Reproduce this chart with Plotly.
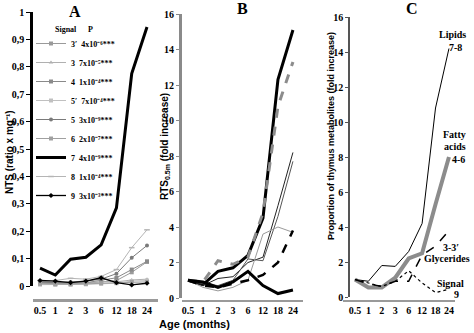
import plotly.graph_objects as go

# ---------------- data ----------------
ages = ["0.5", "1", "2", "3", "6", "12", "18", "24"]

# Panel A: NTS (ratio x mg-1)
a_signals = ["3′", "3", "4", "5′", "5", "6", "7", "8", "9"]
a_pvalues = ["4x10⁻⁶***", "7x10⁻⁵***", "1x10⁻⁴***", "7x10⁻⁴***", "3x10⁻⁹***",
             "2x10⁻⁷***", "4x10⁻⁹***", "1x10⁻⁴***", "3x10⁻³***"]
a_3p = [0.010, 0.008, 0.008, 0.010, 0.015, 0.020, 0.050, 0.088]
a_3 = [0.015, 0.012, 0.012, 0.012, 0.015, 0.015, 0.022, 0.025]
a_4 = [0.012, 0.010, 0.010, 0.012, 0.020, 0.030, 0.060, 0.090]
a_5p = [0.005, 0.005, 0.005, 0.006, 0.008, 0.010, 0.018, 0.020]
a_5 = [0.015, 0.012, 0.015, 0.018, 0.025, 0.045, 0.103, 0.148]
a_6 = [0.008, 0.006, 0.006, 0.008, 0.010, 0.012, 0.015, 0.015]
a_7 = [0.065, 0.040, 0.098, 0.105, 0.150, 0.285, 0.775, 0.945]
a_8 = [0.020, 0.020, 0.028, 0.025, 0.035, 0.060, 0.140, 0.205]
a_9 = [0.020, 0.018, 0.012, 0.018, 0.030, 0.012, 0.004, 0.010]
a_ticks = [0, 0.1, 0.2, 0.3, 0.4, 0.5, 0.6, 0.7, 0.8, 0.9, 1]
a_ticktext = ["0", "0,1", "0,2", "0,3", "0,4", "0,5", "0,6", "0,7", "0,8", "0,9", "1"]

# Panel B: RTS0.5m (fold increase)
b_7 = [1, 0.75, 1.5, 1.7, 2.4, 4.5, 12.3, 15.1]
b_8 = [1, 0.9, 2.1, 1.9, 2.3, 4.8, 10.8, 13.3]
b_4 = [1, 0.7, 1.1, 1.2, 2.0, 2.3, 5.2, 8.2]
b_6 = [1, 0.8, 0.7, 1.0, 2.2, 2.1, 4.6, 7.7]
b_3p = [1, 0.6, 0.4, 0.6, 1.0, 3.6, 4.0, 3.7]
b_3 = [1, 0.7, 0.6, 0.8, 1.0, 1.3, 2.0, 3.8]
b_9 = [1, 0.9, 0.6, 0.9, 1.5, 0.7, 0.25, 0.45]
b_labels = ["7", "8", "4", "6", "3′", "3", "9"]
b_label_y = [14.9, 13.4, 8.3, 7.5, 4.8, 3.4, 0.55]

# Panel C: proportion of thymus metabolites (fold increase)
c_lipids = [1, 0.9, 1.8, 1.75, 2.6, 4.2, 10.8, 14.2]
c_fatty = [1, 0.55, 0.55, 1.1, 2.2, 2.5, 5.3, 8.0]
c_glyc = [1, 0.75, 0.6, 0.9, 0.9, 2.4, 2.9, 3.8]
c_sig9 = [1, 0.8, 0.6, 0.9, 1.5, 0.8, 0.25, 0.45]
bc_ticks = [0, 2, 4, 6, 8, 10, 12, 14, 16]

# ---------------- helpers ----------------
W, H = 474, 333
def px(x):
    return x / W
def py(y):
    return 1 - y / H

SERIF = "Liberation Serif, Times New Roman, serif"
SANS = "Liberation Sans, Arial, sans-serif"

fig = go.Figure()

# ---- Panel A traces ----
a_series = [a_3p, a_3, a_4, a_5p, a_5, a_6, a_7, a_8, a_9]
a_color = ["#9a9a9a", "#b0b0b0", "#8a8a8a", "#c0c0c0", "#7a7a7a", "#a0a0a0", "black", "#b5b5b5", "black"]
a_width = [1, 1, 1, 1, 1, 1, 3, 1, 1.3]
a_symbol = ["square", "triangle-up", "square", "square", "circle", "square", None, "line-ew", "diamond"]
for sig, pv, vals, col, lw, sym in zip(a_signals, a_pvalues, a_series, a_color, a_width, a_symbol):
    mode = "lines" if sym is None else "lines+markers"
    marker = dict(color=col, size=4, symbol=sym or "circle",
                  line=dict(color=col, width=1.5 if sym == "line-ew" else 0))
    fig.add_trace(go.Scatter(
        x=ages, y=vals, xaxis="x", yaxis="y", mode=mode,
        name=f"{sig}  {pv}", line=dict(color=col, width=lw),
        marker=marker, cliponaxis=False, showlegend=True))

# ---- Panel B traces ----
b_series = [b_7, b_8, b_4, b_6, b_3p, b_3, b_9]
b_color = ["black", "#8c8c8c", "#222222", "#555555", "#9a9a9a", "black", "black"]
b_width = [3, 3, 1, 1, 1, 2.5, 3]
b_dash = ["solid", "dash", "solid", "solid", "solid", "dash", "solid"]
for lab, vals, col, lw, dsh in zip(b_labels, b_series, b_color, b_width, b_dash):
    fig.add_trace(go.Scatter(
        x=ages, y=vals, xaxis="x2", yaxis="y2", mode="lines", name=lab,
        line=dict(color=col, width=lw, dash=dsh), showlegend=False, cliponaxis=False))

# ---- Panel C traces ----
c_series = [c_lipids, c_fatty, c_glyc, c_sig9]
c_names = ["Lipids 7-8", "Fatty acids 4-6", "Glycerides 3-3′", "Signal 9"]
c_color = ["black", "#8c8c8c", "black", "black"]
c_width = [1, 4, 1.5, 1.2]
c_dash = ["solid", "solid", "dash", "dot"]
for nm, vals, col, lw, dsh in zip(c_names, c_series, c_color, c_width, c_dash):
    fig.add_trace(go.Scatter(
        x=ages, y=vals, xaxis="x3", yaxis="y3", mode="lines", name=nm,
        line=dict(color=col, width=lw, dash=dsh), showlegend=False, cliponaxis=False))

# ---------------- axes ----------------
xtickfont = dict(family=SERIF, size=10, color="black", weight="bold")
ytickfont = dict(family=SERIF, size=10, color="black", weight="bold")
common_x = dict(type="category", categoryorder="array", categoryarray=ages,
                showline=True, ticks="", showgrid=False, zeroline=False,
                tickfont=xtickfont, anchor="free", fixedrange=True, automargin=False,
                tickangle=0)
common_y = dict(showline=True, ticks="outside", ticklen=4, showgrid=False,
                zeroline=False, tickfont=ytickfont, fixedrange=True, automargin=False)

fig.update_layout(
    template="none",
    xaxis=dict(common_x, domain=[px(33), px(158)], position=py(300),
               range=[-0.46, 7.72], linecolor="#9a9a9a", linewidth=2.5),
    yaxis=dict(common_y, domain=[py(286), py(12)], range=[0, 1], anchor="x",
               tickvals=a_ticks, ticktext=a_ticktext,
               linecolor="black", linewidth=2.5, tickcolor="black"),
    xaxis2=dict(common_x, domain=[px(182), px(303)], position=py(301),
                range=[-0.4, 7.67], linecolor="#9a9a9a", linewidth=1.5),
    yaxis2=dict(common_y, domain=[py(298), py(14)], range=[0, 16], anchor="x2",
                tickvals=bc_ticks, linecolor="#8a8a8a", linewidth=3,
                tickcolor="#8a8a8a", ticklen=3),
    xaxis3=dict(common_x, domain=[px(343), px(455)], position=py(301),
                range=[-0.89, 7.45], linecolor="#9a9a9a", linewidth=2),
    yaxis3=dict(common_y, domain=[py(297), py(17)], range=[0, 16], anchor="free",
                position=px(349), tickvals=bc_ticks, linecolor="#555555",
                linewidth=1.5, tickcolor="#555555", ticklen=3),
)

# ---------------- legend ----------------
fig.update_layout(
    showlegend=True,
    legend=dict(x=px(31), y=py(29), xanchor="left", yanchor="top",
                bgcolor="rgba(0,0,0,0)", borderwidth=0, itemwidth=30, tracegroupgap=0,
                font=dict(family=SERIF, size=8, color="black", weight="bold")),
)

# ---------------- annotations ----------------
ann = []
def add_text(text, x, y, size=9, family=SERIF, angle=0, xanchor="center"):
    ann.append(dict(text=text, x=x, y=y, xref="paper", yref="paper", showarrow=False,
                    xanchor=xanchor, yanchor="middle", textangle=angle,
                    font=dict(family=family, size=size, color="black", weight="bold")))

# legend header
add_text("Signal", px(53), py(29), size=8, xanchor="left")
add_text("P", px(86), py(29), size=8, xanchor="left")

# panel letters
add_text("A", px(75), py(11), size=16)
add_text("B", px(243), py(9), size=16)
add_text("C", px(412), py(9), size=16)

# axis titles
add_text("NTS (ratio x mg⁻¹)", px(10), py(152), size=10, family=SANS, angle=-90)
add_text("RTS<sub>0.5m</sub> (fold increase)", px(165), py(147), size=10, family=SANS, angle=-90)
add_text("Proportion of thymus metabolites (fold increase)", px(331), py(136),
         size=9, family=SANS, angle=-90)
add_text("Age (months)", px(194), py(324), size=11, family=SANS)

# panel B line labels
for lab, yv in zip(b_labels, b_label_y):
    ann.append(dict(text=lab, x="24", y=yv, xref="x2", yref="y2", showarrow=False,
                    xanchor="left", yanchor="middle", xshift=6,
                    font=dict(family=SERIF, size=11, color="black", weight="bold")))

# panel C labels
add_text("Lipids", px(468), py(35), size=10, xanchor="right")
add_text("7-8", px(464), py(48), size=10, xanchor="right")
add_text("Fatty", px(468), py(134), size=10, xanchor="right")
add_text("acids", px(468), py(147), size=10, xanchor="right")
add_text("4-6", px(467), py(159), size=10, xanchor="right")
add_text("3-3′", px(461), py(247), size=10, xanchor="right")
add_text("Glycerides", px(472), py(258), size=10, xanchor="right")
add_text("Signal", px(466), py(283), size=10, xanchor="right")
add_text("9", px(461), py(294), size=10, xanchor="right")

fig.update_layout(
    annotations=ann,
    width=W, height=H,
    margin=dict(l=0, r=0, t=0, b=0, pad=0),
    paper_bgcolor="white", plot_bgcolor="white",
)

fig.write_html("out.html", include_plotlyjs=True, config={"displayModeBar": False})
